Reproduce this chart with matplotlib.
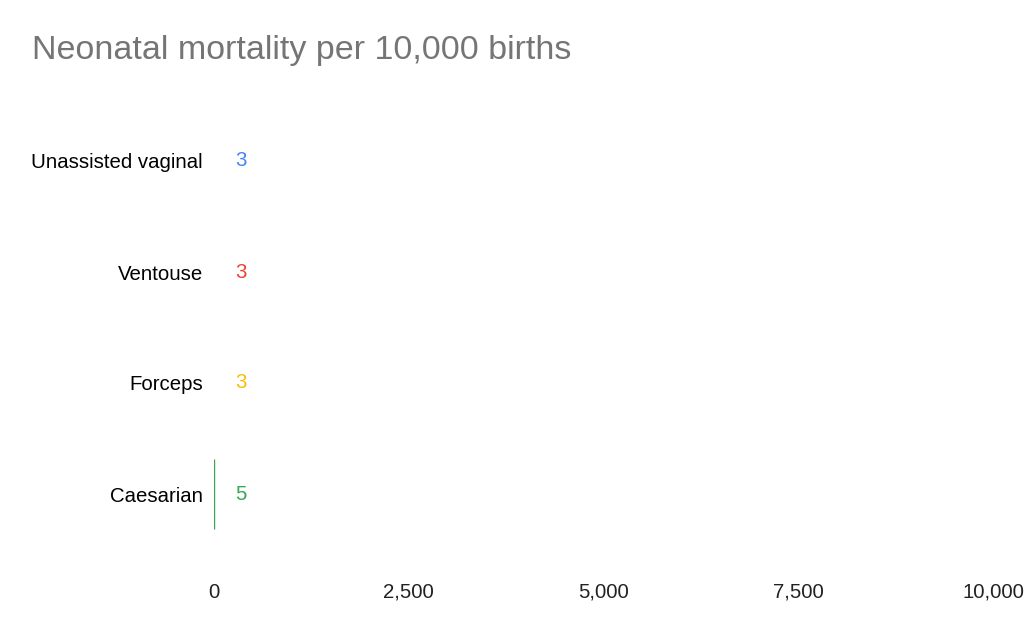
import matplotlib.pyplot as plt
from matplotlib.ticker import FuncFormatter

plt.rcParams['font.family'] = ['Liberation Sans', 'DejaVu Sans']

methods = ['Unassisted vaginal', 'Ventouse', 'Forceps', 'Caesarian']
deaths = [3, 3, 3, 5]
colors = ['#4285F4', '#EA4335', '#FBBC04', '#34A853']
x_ticks = [0, 2500, 5000, 7500, 10000]

# 建立畫布
fig = plt.figure(figsize=(10.24, 6.33), dpi=100)
ax = fig.add_axes([214 / 1024, 1 - 549.5 / 633, 779 / 1024, 444 / 633])

# 只有剖腹產那條看得到細線
edge_widths = [0, 0, 0, 1.0]
ax.barh(range(len(methods)), deaths, height=0.63, color=colors,
        edgecolor=colors, linewidth=edge_widths)

ax.set_xlim(0, 10000)
ax.set_ylim(-0.5, len(methods) - 0.5)
ax.invert_yaxis()

ax.set_yticks(range(len(methods)))
ax.set_yticklabels(methods, fontsize=14.7, color='#000000')
ax.set_xticks(x_ticks)
ax.xaxis.set_major_formatter(FuncFormatter(lambda v, p: f'{int(v):,}'))
ax.tick_params(axis='x', length=0, pad=24, labelsize=14.7, labelcolor='#222222')
ax.tick_params(axis='y', length=0, pad=8)

for s in ax.spines.values():
    s.set_visible(False)

# 數值標籤
for i, (v, c) in enumerate(zip(deaths, colors)):
    ax.annotate(str(v), (v, i), xytext=(19, 0), textcoords='offset points',
                ha='center', va='center', fontsize=14.7, color=c)

fig.text(32 / 1024, 1 - 51 / 633, 'Neonatal mortality per 10,000 births',
         fontsize=24.5, color='#757575', ha='left', va='center')

fig.savefig('out.png', dpi=100)
